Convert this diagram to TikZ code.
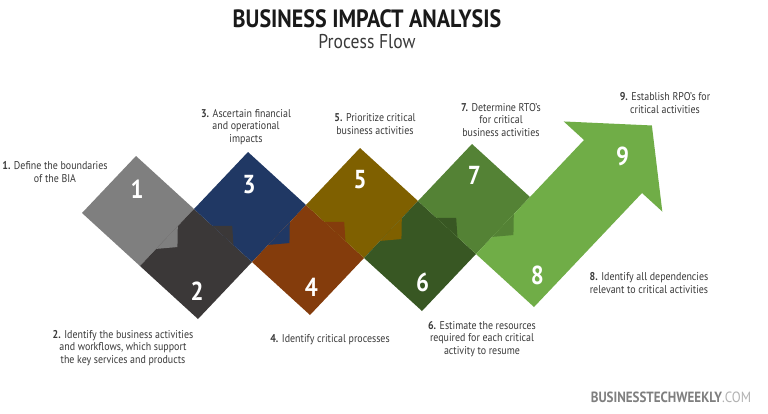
\documentclass[tikz,border=0pt]{standalone}
\usepackage{fontspec}
\setmainfont{PT Sans}[FakeStretch=0.88]
\usepackage{xcolor}
\definecolor{pgray}{HTML}{7F7F7F}
\definecolor{pdark}{HTML}{3B3838}
\definecolor{pnavy}{HTML}{203864}
\definecolor{pbrown}{HTML}{843C0C}
\definecolor{polive}{HTML}{7F6000}
\definecolor{pdgreen}{HTML}{385723}
\definecolor{pmgreen}{HTML}{548235}
\definecolor{plgreen}{HTML}{70AD47}
\definecolor{ptext}{HTML}{3A3A3A}
\tikzset{
  num/.style={text=white, inner sep=0pt, font=\bfseries\fontsize{26}{26}\selectfont},
  lbl/.style={text=ptext, align=center, inner sep=0pt, font=\fontsize{11.3}{12.4}\selectfont},
}
\begin{document}
\begin{tikzpicture}
\fill[white] (0,0) rectangle (768pt,-413pt);
\useasboundingbox (0,0) rectangle (768pt,-413pt);
\node[text=black!90, font=\bfseries\fontsize{25}{25}\selectfont] (title) at (367pt,-19pt) {BUSINESS IMPACT ANALYSIS};
\node[text=ptext, font=\fontsize{20}{20}\selectfont] (subtitle) at (367pt,-42pt) {Process Flow};
% puzzle pieces on a tilted grid
\begin{scope}[shift={(82pt,-213pt)}, x={(58pt,-53pt)}, y={(54pt,57pt)}]
  \foreach \i/\j/\c in {0/0/pgray, 1/0/pdark, 1/1/pnavy, 2/1/pbrown, 2/2/polive, 3/2/pdgreen, 3/3/pmgreen}
    \fill[\c] (\i,\j) -- ++(1,0) -- ++(0,1) -- ++(-1,0) -- cycle;
  \fill[plgreen] (4,3) -- (5,3) -- (5,5) -- (5.35,5) -- (4.5,5.72) -- (3.65,5) -- (4,5) -- cycle;
  % tabs
  \foreach \i/\j/\c in {0/0/pgray, 1/1/pnavy, 2/2/polive, 3/3/pmgreen}
    \fill[\c] (\i+1,\j+0.3) -- (\i+1.18,\j+0.5) -- (\i+1,\j+0.7) -- cycle;
  \foreach \i/\j/\c in {1/0/pdark, 2/1/pbrown, 3/2/pdgreen}
    \fill[\c] (\i+0.32,\j+1) -- (\i+0.5,\j+1.17) -- (\i+0.68,\j+1) -- cycle;
  \node[num] (n1) at (0.3,0.7) {1};
  \node[num] (n2) at (1.75,0.25) {2};
  \node[num] (n3) at (1.3,1.7) {3};
  \node[num] (n4) at (2.77,1.27) {4};
  \node[num] (n5) at (2.28,2.7) {5};
  \node[num] (n6) at (3.76,2.27) {6};
  \node[num] (n7) at (3.3,3.72) {7};
  \node[num] (n8) at (4.75,3.33) {8};
  \node[num] (n9) at (4.5,5.18) {9};
\end{scope}
\node[lbl] (t1) at (55pt,-172pt) {\textbf{1.} Define the boundaries\\of the BIA};
\node[lbl] (t2) at (123pt,-348pt) {\textbf{2.} Identify the business activities\\and workflows, which support\\the key services and products};
\node[lbl] (t3) at (246pt,-127pt) {\textbf{3.} Ascertain financial\\and operational\\impacts};
\node[lbl] (t4) at (330pt,-340pt) {\textbf{4.} Identify critical processes};
\node[lbl] (t5) at (375pt,-124pt) {\textbf{5.} Prioritize critical\\business activities};
\node[lbl] (t6) at (482pt,-339pt) {\textbf{6.} Estimate the resources\\required for each critical\\activity to resume};
\node[lbl] (t7) at (501pt,-120pt) {\textbf{7.} Determine RTO's\\for critical\\business activities};
\node[lbl] (t8) at (649pt,-283pt) {\textbf{8.} Identify all dependencies\\relevant to critical activities};
\node[lbl] (t9) at (665pt,-103pt) {\textbf{9.} Establish RPO's for\\critical activities};
\node[text=pgray, font=\fontsize{14.8}{14.8}\selectfont] (web) at (671pt,-397pt) {\textbf{BUSINESSTECHWEEKLY}{\color{pgray!60}.COM}};
\end{tikzpicture}
\end{document}
